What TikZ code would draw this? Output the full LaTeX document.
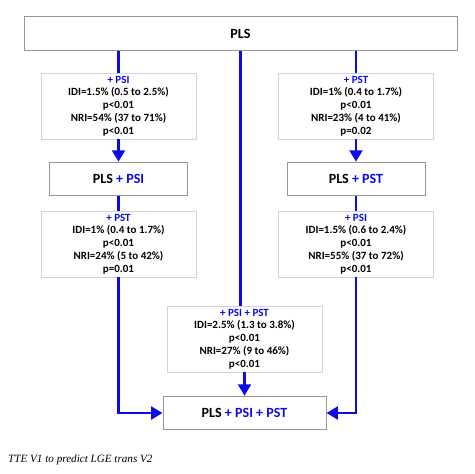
\documentclass[tikz,border=0pt]{standalone}
\usepackage{fontspec}
\setmainfont{Carlito}
\newfontfamily\capfont{Liberation Serif}
\usetikzlibrary{arrows.meta}
\definecolor{linkblue}{RGB}{10,10,235}
\definecolor{boxgray}{RGB}{150,150,150}
\definecolor{statgray}{RGB}{205,210,225}

\begin{document}
\begin{tikzpicture}[x=0.03cm, y=-0.03cm, >={Triangle[length=3.4mm, width=3.8mm]},
  mainbox/.style={draw=boxgray, line width=0.8pt, minimum height=1.01cm, inner sep=0pt,
    font=\bfseries\fontsize{12}{14}\selectfont},
  statbox/.style={draw=statgray, line width=0.8pt, minimum width=4.65cm, minimum height=1.98cm,
    inner sep=0pt, align=center, font=\bfseries\fontsize{9.4}{10.9}\selectfont},
  link/.style={draw=linkblue, line width=2.5pt}]
  \useasboundingbox (0,0) rectangle (474,474);
  % boxes of the models
  \node[mainbox, minimum width=12.99cm] (pls) at (240.5,33.5) {PLS};
  \node[mainbox, minimum width=4.14cm] (plspsi) at (118.5,179) {PLS \textcolor{linkblue}{+ PSI}};
  \node[mainbox, minimum width=4.14cm] (plspst) at (356,179) {PLS \textcolor{linkblue}{+ PST}};
  \node[mainbox, minimum width=4.89cm] (plsall) at (244.5,413) {PLS \textcolor{linkblue}{+ PSI + PST}};
  % boxes of the statistics
  \node[statbox] (addpsi) at (118.5,106) {\textcolor{linkblue}{+ PSI}\\IDI=1.5\% (0.5 to 2.5\%)\\p<0.01\\NRI=54\% (37 to 71\%)\\p<0.01};
  \node[statbox] (addpst) at (356,106) {\textcolor{linkblue}{+ PST}\\IDI=1\% (0.4 to 1.7\%)\\p<0.01\\NRI=23\% (4 to 41\%)\\p=0.02};
  \node[statbox] (thenpst) at (118.5,244) {\textcolor{linkblue}{+ PST}\\IDI=1\% (0.4 to 1.7\%)\\p<0.01\\NRI=24\% (5 to 42\%)\\p=0.01};
  \node[statbox] (thenpsi) at (356,244) {\textcolor{linkblue}{+ PSI}\\IDI=1.5\% (0.6 to 2.4\%)\\p<0.01\\NRI=55\% (37 to 72\%)\\p<0.01};
  \node[statbox] (addboth) at (244.5,339) {\textcolor{linkblue}{+ PSI + PST}\\IDI=2.5\% (1.3 to 3.8\%)\\p<0.01\\NRI=27\% (9 to 46\%)\\p<0.01};
  % connectors
  \draw[link] (pls.south -| addpsi) -- (addpsi.north);
  \draw[link, ->] (addpsi) -- (plspsi);
  \draw[link] (plspsi) -- (thenpst);
  \draw[link, ->] (thenpst.south) |- (plsall.west);
  \draw[link] (pls.south -| addpst) -- (addpst.north);
  \draw[link, ->] (addpst) -- (plspst);
  \draw[link] (plspst) -- (thenpsi);
  \draw[link, ->] (thenpsi.south) |- (plsall.east);
  \draw[link] (pls.south) -- (pls.south |- addboth.north);
  \draw[link, ->] (addboth) -- (plsall);
  % caption
  \node[anchor=west, inner sep=0pt, font=\capfont\itshape\fontsize{9.5}{11}\selectfont] (caption) at (8,460) {TTE V1 to predict LGE trans V2};
\end{tikzpicture}
\end{document}
